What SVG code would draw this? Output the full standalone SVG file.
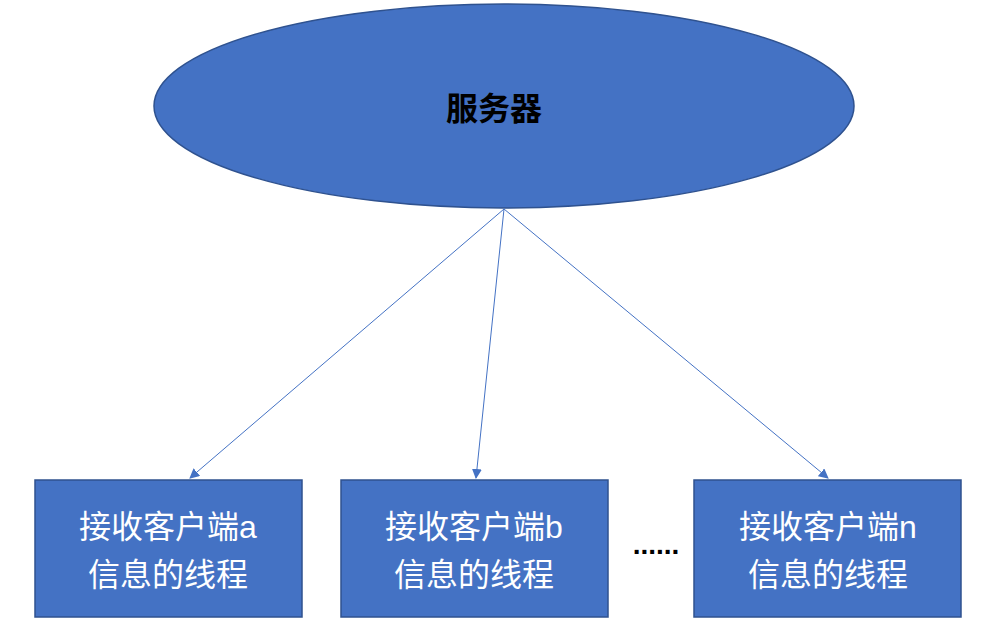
<svg xmlns="http://www.w3.org/2000/svg" width="1001" height="630" viewBox="0 0 1001 630">
<style>
.box{fill:#4472C4;stroke:#2F528F;stroke-width:1.5}
.t{font-family:"Liberation Sans","Noto Sans CJK SC",sans-serif;font-size:32px;fill:#fff;text-anchor:middle}
.c{stroke:#4472C4;stroke-width:1;fill:none;marker-end:url(#ah)}
</style>
<defs><marker id="ah" viewBox="0 0 10 10" refX="9" refY="5" markerWidth="10" markerHeight="10" markerUnits="userSpaceOnUse" orient="auto"><path d="M0,0L10,5L0,10z" fill="#4472C4"/></marker></defs>
<rect width="1001" height="630" fill="#fff"/>
<g id="server"><ellipse class="box" cx="504" cy="106" rx="350" ry="102"/>
<text x="494" y="120" style="font-family:'Liberation Sans','Noto Sans CJK SC',sans-serif;font-size:32px;font-weight:bold;fill:#000;text-anchor:middle">服务器</text></g>
<g id="connectors">
<line class="c" x1="504" y1="209" x2="190" y2="478"/>
<line class="c" x1="504" y1="209" x2="476" y2="478"/>
<line class="c" x1="504" y1="209" x2="828" y2="478"/>
</g>
<g id="a"><rect class="box" x="35" y="480" width="267" height="137"/><text class="t" x="168" y="538">接收客户端a</text><text class="t" x="168" y="586">信息的线程</text></g>
<g id="b"><rect class="box" x="341" y="480" width="267" height="137"/><text class="t" x="474" y="538">接收客户端b</text><text class="t" x="474" y="586">信息的线程</text></g>
<g id="n"><rect class="box" x="694" y="480" width="267" height="137"/><text class="t" x="828" y="538">接收客户端n</text><text class="t" x="828" y="586">信息的线程</text></g>
<text x="656" y="554" style="font-family:'Liberation Sans',sans-serif;font-size:28px;font-weight:bold;fill:#000;text-anchor:middle">......</text>
</svg>
